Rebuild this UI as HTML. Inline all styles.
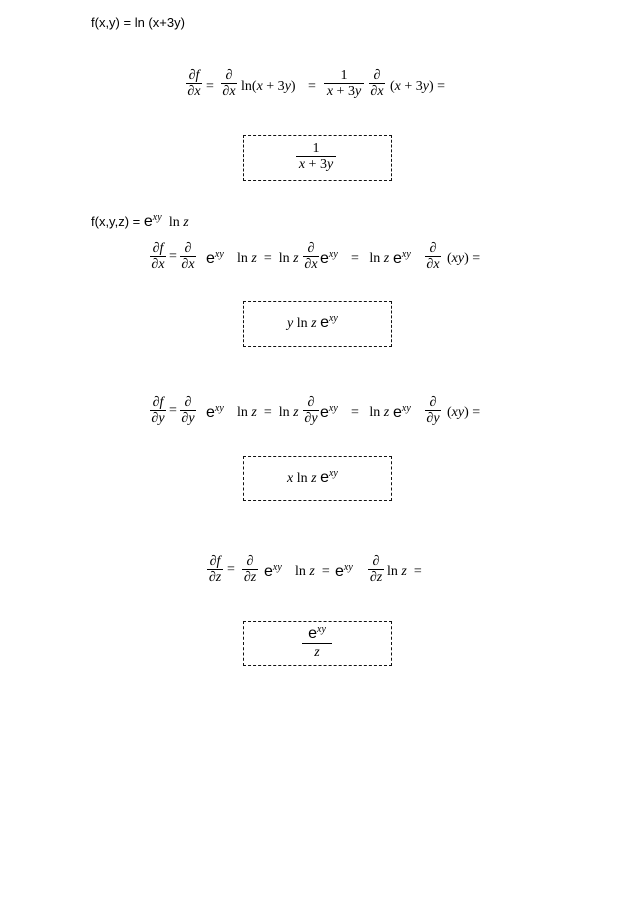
<!DOCTYPE html>
<html><head><meta charset="utf-8"><style>
body{margin:0;width:638px;height:902px;background:#fff;position:relative;overflow:hidden;color:#000}
.s{position:absolute;font:13px "Liberation Sans",sans-serif;white-space:nowrap}
.t{position:absolute;font:14px "Liberation Serif",serif;line-height:14px;white-space:nowrap}
.f{position:absolute;font:14px "Liberation Serif",serif;text-align:center;white-space:nowrap}
.f .n{height:14px;line-height:13px}
.f .b{border-top:1px solid #000}
.f .d{height:14px;line-height:16px}
i{font-style:italic}
.e{font-family:"Liberation Sans",sans-serif;font-size:16px;line-height:14px}
.e sup{font:italic 10px "Liberation Serif",serif;vertical-align:6px;line-height:0}
.box{position:absolute;border:1.7px dashed #111;left:243px;width:147px}
</style></head><body>

<div class="s" style="left:91px;top:15px">f(x,y) = ln (x+3y)</div>

<!-- row 1 -->
<div class="f" style="left:186px;top:69px;width:16px"><div class="n"><i>∂f</i></div><div class="b"></div><div class="d"><i>∂x</i></div></div>
<div class="t" style="left:206px;top:80px">=</div>
<div class="f" style="left:221px;top:69px;width:16px"><div class="n"><i>∂</i></div><div class="b"></div><div class="d"><i>∂x</i></div></div>
<div class="t" style="left:241px;top:80px">ln(<i>x</i> + 3<i>y</i>)</div>
<div class="t" style="left:308px;top:80px">=</div>
<div class="f" style="left:324px;top:69px;width:40px"><div class="n">1</div><div class="b"></div><div class="d"><i>x</i> + 3<i>y</i></div></div>
<div class="f" style="left:369px;top:69px;width:16px"><div class="n"><i>∂</i></div><div class="b"></div><div class="d"><i>∂x</i></div></div>
<div class="t" style="left:390px;top:80px">(<i>x</i> + 3<i>y</i>) =</div>

<div class="box" style="top:135px;height:44px"></div>
<div class="f" style="left:296px;top:142px;width:40px"><div class="n">1</div><div class="b"></div><div class="d"><i>x</i> + 3<i>y</i></div></div>

<div class="s" style="left:91px;top:214px">f(x,y,z) = <span class="e">e<sup>xy</sup></span>&nbsp; <span style="font-family:'Liberation Serif',serif;font-size:14px">ln <i>z</i></span></div>

<!-- row 2 -->
<div class="f" style="left:150px;top:242px;width:16px"><div class="n"><i>∂f</i></div><div class="b"></div><div class="d"><i>∂x</i></div></div>
<div class="t" style="left:169px;top:250px">=</div>
<div class="f" style="left:180px;top:242px;width:16px"><div class="n"><i>∂</i></div><div class="b"></div><div class="d"><i>∂x</i></div></div>
<div class="t" style="left:206px;top:252px"><span class="e">e<sup>xy</sup></span></div>
<div class="t" style="left:237px;top:252px">ln <i>z</i>&nbsp; =&nbsp; ln <i>z</i></div>
<div class="f" style="left:303px;top:242px;width:16px"><div class="n"><i>∂</i></div><div class="b"></div><div class="d"><i>∂x</i></div></div>
<div class="t" style="left:320px;top:252px"><span class="e">e<sup>xy</sup></span></div>
<div class="t" style="left:351px;top:252px">=&nbsp;&nbsp; ln <i>z</i></div>
<div class="t" style="left:393px;top:252px"><span class="e">e<sup>xy</sup></span></div>
<div class="f" style="left:425px;top:242px;width:16px"><div class="n"><i>∂</i></div><div class="b"></div><div class="d"><i>∂x</i></div></div>
<div class="t" style="left:447px;top:252px">(<i>xy</i>) =</div>

<div class="box" style="top:301px;height:44px"></div>
<div class="t" style="left:287px;top:316px"><i>y</i> ln <i>z</i> <span class="e">e<sup>xy</sup></span></div>

<!-- row 3 -->
<div class="f" style="left:150px;top:396px;width:16px"><div class="n"><i>∂f</i></div><div class="b"></div><div class="d"><i>∂y</i></div></div>
<div class="t" style="left:169px;top:404px">=</div>
<div class="f" style="left:180px;top:396px;width:16px"><div class="n"><i>∂</i></div><div class="b"></div><div class="d"><i>∂y</i></div></div>
<div class="t" style="left:206px;top:406px"><span class="e">e<sup>xy</sup></span></div>
<div class="t" style="left:237px;top:406px">ln <i>z</i>&nbsp; =&nbsp; ln <i>z</i></div>
<div class="f" style="left:303px;top:396px;width:16px"><div class="n"><i>∂</i></div><div class="b"></div><div class="d"><i>∂y</i></div></div>
<div class="t" style="left:320px;top:406px"><span class="e">e<sup>xy</sup></span></div>
<div class="t" style="left:351px;top:406px">=&nbsp;&nbsp; ln <i>z</i></div>
<div class="t" style="left:393px;top:406px"><span class="e">e<sup>xy</sup></span></div>
<div class="f" style="left:425px;top:396px;width:16px"><div class="n"><i>∂</i></div><div class="b"></div><div class="d"><i>∂y</i></div></div>
<div class="t" style="left:447px;top:406px">(<i>xy</i>) =</div>

<div class="box" style="top:456px;height:43px"></div>
<div class="t" style="left:287px;top:471px"><i>x</i> ln <i>z</i> <span class="e">e<sup>xy</sup></span></div>

<!-- row 4 -->
<div class="f" style="left:207px;top:555px;width:16px"><div class="n"><i>∂f</i></div><div class="b"></div><div class="d"><i>∂z</i></div></div>
<div class="t" style="left:227px;top:563px">=</div>
<div class="f" style="left:242px;top:555px;width:16px"><div class="n"><i>∂</i></div><div class="b"></div><div class="d"><i>∂z</i></div></div>
<div class="t" style="left:264px;top:565px"><span class="e">e<sup>xy</sup></span></div>
<div class="t" style="left:295px;top:565px">ln <i>z</i>&nbsp; =</div>
<div class="t" style="left:335px;top:565px"><span class="e">e<sup>xy</sup></span></div>
<div class="f" style="left:368px;top:555px;width:16px"><div class="n"><i>∂</i></div><div class="b"></div><div class="d"><i>∂z</i></div></div>
<div class="t" style="left:387px;top:565px">ln <i>z</i>&nbsp; =</div>

<div class="box" style="top:621px;height:43px"></div>
<div class="f" style="left:302px;top:626px;width:30px"><div class="n" style="height:17px;line-height:17px"><span class="e">e<sup>xy</sup></span></div><div class="b"></div><div class="d" style="line-height:18px"><i>z</i></div></div>

</body></html>
